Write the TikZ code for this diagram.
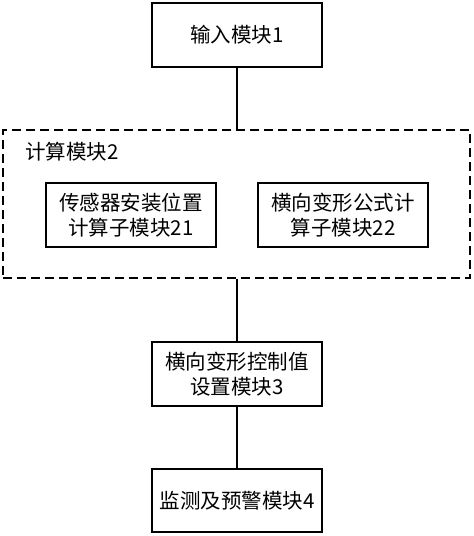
\documentclass[tikz,border=0pt]{standalone}
\usepackage{fontspec}
\newfontfamily\cjk{Noto Sans CJK SC}
\begin{document}
\begin{tikzpicture}[x=1pt,y=-1pt,
  box/.style={draw, line width=1.3pt, minimum width=170pt, minimum height=64pt, inner sep=0pt, align=center, font=\cjk\fontsize{20.5}{25}\selectfont},
  group/.style={draw, line width=1.3pt, dash pattern=on 9pt off 5pt, minimum width=467pt, minimum height=148pt, inner sep=0pt},
  lbl/.style={font=\cjk\fontsize{20.5}{25}\selectfont, inner sep=0pt},
  link/.style={line width=1.3pt}]
\useasboundingbox (0,0) rectangle (474,536);
\node[box] (b1) at (237,35) {输入模块1};
\node[group] (calc) at (236.5,204) {};
\node[lbl, anchor=west] (calclbl) at (25,152) {计算模块2};
\node[box] (s21) at (131,215) {传感器安装位置\\计算子模块21};
\node[box] (s22) at (343,215) {横向变形公式计\\算子模块22};
\node[box] (b3) at (237,374) {横向变形控制值\\设置模块3};
\node[box, minimum height=63pt] (b4) at (237,500.5) {监测及预警模块4};
\draw[link] (b1.south) -- (b1.south |- calc.north);
\draw[link] (b3.north |- calc.south) -- (b3.north);
\draw[link] (b3.south) -- (b4.north);
\end{tikzpicture}
\end{document}
